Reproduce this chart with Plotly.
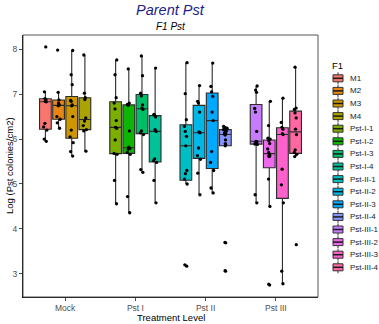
import plotly.graph_objects as go

# Treatment levels on the x axis and the F1 lines dodged within each level
treatments = ["Mock", "Pst I", "Pst II", "Pst III"]
f1_levels = ["M1", "M2", "M3", "M4",
             "Pst-I-1", "Pst-I-2", "Pst-I-3", "Pst-I-4",
             "Pst-II-1", "Pst-II-2", "Pst-II-3", "Pst-II-4",
             "Pst-III-1", "Pst-III-2", "Pst-III-3", "Pst-III-4"]
f1_treatment = ["Mock"] * 4 + ["Pst I"] * 4 + ["Pst II"] * 4 + ["Pst III"] * 4

# ggplot2 default hue palette for 16 levels
f1_colors = ["#F8766D", "#E68613", "#CD9600", "#ABA300", "#7CAE00", "#0CB702",
             "#00BE67", "#00C19A", "#00BFC4", "#00B8E7", "#00A9FF", "#8494FF",
             "#C77CFF", "#ED68ED", "#FF61CC", "#FF68A1"]

# Log(Pst colonies/cm2) per F1 line
m1 = [8.05, 7.05, 6.90, 6.88, 6.84, 6.83, 6.35, 6.27, 6.20, 6.00, 5.95]
m2 = [7.98, 7.04, 6.87, 6.80, 6.76, 6.74, 6.50, 6.44, 6.36, 6.24]
m3 = [7.97, 7.43, 7.21, 6.86, 6.84, 6.76, 6.74, 6.50, 6.20, 6.05, 5.92, 5.72, 5.62]
m4 = [7.87, 7.02, 6.92, 6.88, 6.47, 6.40, 6.30, 6.21, 6.18, 5.73]
pst_i_1 = [7.76, 7.43, 6.92, 6.80, 6.67, 6.41, 6.26, 6.24, 5.98, 5.68, 5.66, 5.08, 4.56]
pst_i_2 = [7.56, 6.80, 6.77, 6.75, 6.18, 5.82, 5.79, 5.77, 5.70, 5.66, 4.72, 4.36]
pst_i_3 = [7.85, 7.41, 7.02, 6.96, 6.76, 6.69, 6.66, 6.18, 6.14, 6.10, 5.32, 5.26]
pst_i_4 = [7.58, 6.55, 6.53, 6.49, 6.21, 6.17, 5.56, 5.52, 5.48, 5.08, 4.58]
pst_ii_1 = [7.70, 7.01, 6.43, 6.28, 6.17, 6.06, 5.85, 5.30, 5.23, 5.11, 5.00, 3.20, 3.17]
pst_ii_2 = [7.19, 6.84, 6.80, 6.60, 6.16, 6.14, 5.80, 5.63, 5.55, 5.24, 4.76]
pst_ii_3 = [7.69, 7.17, 7.05, 6.95, 6.60, 6.41, 5.72, 5.48, 5.30, 4.91, 4.80]
pst_ii_4 = [6.28, 6.26, 6.24, 6.22, 6.21, 6.18, 6.15, 6.12, 6.11, 6.09, 5.98,
            5.90, 5.88, 5.85, 3.70, 3.69, 3.07, 3.06]
pst_iii_1 = [7.18, 7.09, 7.04, 6.68, 6.60, 6.17, 5.95, 5.94, 5.92, 5.89, 5.88, 4.76, 4.58]
pst_iii_2 = [6.84, 6.30, 6.02, 6.00, 5.96, 5.90, 5.78, 5.70, 5.65, 5.64, 5.62,
             5.61, 5.11, 4.50, 2.77, 2.75]
pst_iii_3 = [6.91, 6.37, 6.26, 6.22, 6.12, 6.10, 5.33, 4.98, 4.58, 3.06, 2.78]
pst_iii_4 = [7.60, 6.69, 6.66, 6.58, 6.47, 6.22, 6.10, 5.76, 5.70, 5.66, 5.61, 3.65]

f1_values = [m1, m2, m3, m4, pst_i_1, pst_i_2, pst_i_3, pst_i_4,
             pst_ii_1, pst_ii_2, pst_ii_3, pst_ii_4,
             pst_iii_1, pst_iii_2, pst_iii_3, pst_iii_4]

W, H = 379, 324
ML, MR, MT, MB = 23, 61, 35, 27
PW, PH = W - ML - MR, H - MT - MB


def px_x(px):
    return (px - ML) / PW


def px_y(py):
    return 1 - (py - MT) / PH


fig = go.Figure()
for k, (name, trt, col, vals) in enumerate(zip(f1_levels, f1_treatment, f1_colors, f1_values)):
    fig.add_trace(go.Box(
        x=[trt] * len(vals), y=vals, name=name,
        offsetgroup=str(k % 4),
        fillcolor=col,
        line=dict(color="#2b2b2b", width=1.1),
        marker=dict(color="black", size=3.3),
        boxpoints="all", jitter=0.35, pointpos=0,
        whiskerwidth=0, quartilemethod="linear",
        showlegend=False, hoverinfo="y+name",
    ))

all_vals = [v for s in f1_values for v in s]
lo, hi = min(all_vals), max(all_vals)
pad = 0.05 * (hi - lo)

grey = "#4D4D4D"
font_family = "Liberation Sans, Arial, sans-serif"


def label(text, px, py, size, color="black", anchor="center", angle=0):
    return dict(text=text, x=px_x(px), y=px_y(py), xref="paper", yref="paper",
                xanchor=anchor, yanchor="middle", showarrow=False, textangle=angle,
                font=dict(size=size, color=color, family=font_family))


shapes = [
    # panel border
    dict(type="rect", xref="paper", yref="paper", x0=0, x1=1, y0=0, y1=1,
         line=dict(color="#555555", width=1), fillcolor="rgba(0,0,0,0)"),
]
annotations = [
    label("<i>Parent Pst</i>", 170.5, 10, 14.5, "#1C1C8C"),
    label("<i>F1 Pst</i>", 170.5, 26.5, 10),
    label("Treatment Level", 170.5, 317, 9.5),
    label("Log (Pst colonies/cm2)", 9, 166, 9.5, angle=-90),
    label("F1", 330, 65, 9.5, anchor="left"),
]

# hand-drawn legend with boxplot glyphs
for i, (name, col) in enumerate(zip(f1_levels, f1_colors)):
    cy = 78.3 + i * 12.6
    shapes.append(dict(type="line", xref="paper", yref="paper",
                       x0=px_x(338), x1=px_x(338), y0=px_y(cy - 6), y1=px_y(cy + 6),
                       line=dict(color="#333333", width=1)))
    shapes.append(dict(type="rect", xref="paper", yref="paper",
                       x0=px_x(333), x1=px_x(343), y0=px_y(cy - 3.5), y1=px_y(cy + 3.5),
                       fillcolor=col, line=dict(color="#333333", width=1)))
    shapes.append(dict(type="line", xref="paper", yref="paper",
                       x0=px_x(333), x1=px_x(343), y0=px_y(cy), y1=px_y(cy),
                       line=dict(color="#1a1a1a", width=1.5)))
    annotations.append(label(name, 347.5, cy, 8, "#1a1a1a", anchor="left"))

fig.update_layout(
    width=W, height=H,
    margin=dict(l=ML, r=MR, t=MT, b=MB, pad=0),
    paper_bgcolor="white", plot_bgcolor="white",
    boxmode="group", boxgap=0.25, boxgroupgap=0.11,
    showlegend=False,
    font=dict(family=font_family),
    shapes=shapes, annotations=annotations,
    xaxis=dict(type="category", categoryorder="array", categoryarray=treatments,
               range=[-0.6, 3.6], showgrid=False, zeroline=False,
               showline=True, linecolor="black", linewidth=1.2,
               ticks="outside", ticklen=3, tickcolor=grey, tickwidth=1,
               tickfont=dict(size=8.5, color=grey, family=font_family)),
    yaxis=dict(range=[lo - pad, hi + pad], tickvals=[3, 4, 5, 6, 7, 8],
               showgrid=False, zeroline=False,
               showline=True, linecolor="black", linewidth=1.2,
               ticks="outside", ticklen=3, tickcolor=grey, tickwidth=1,
               tickfont=dict(size=8.5, color=grey, family=font_family)),
)

fig.write_html("out.html")
